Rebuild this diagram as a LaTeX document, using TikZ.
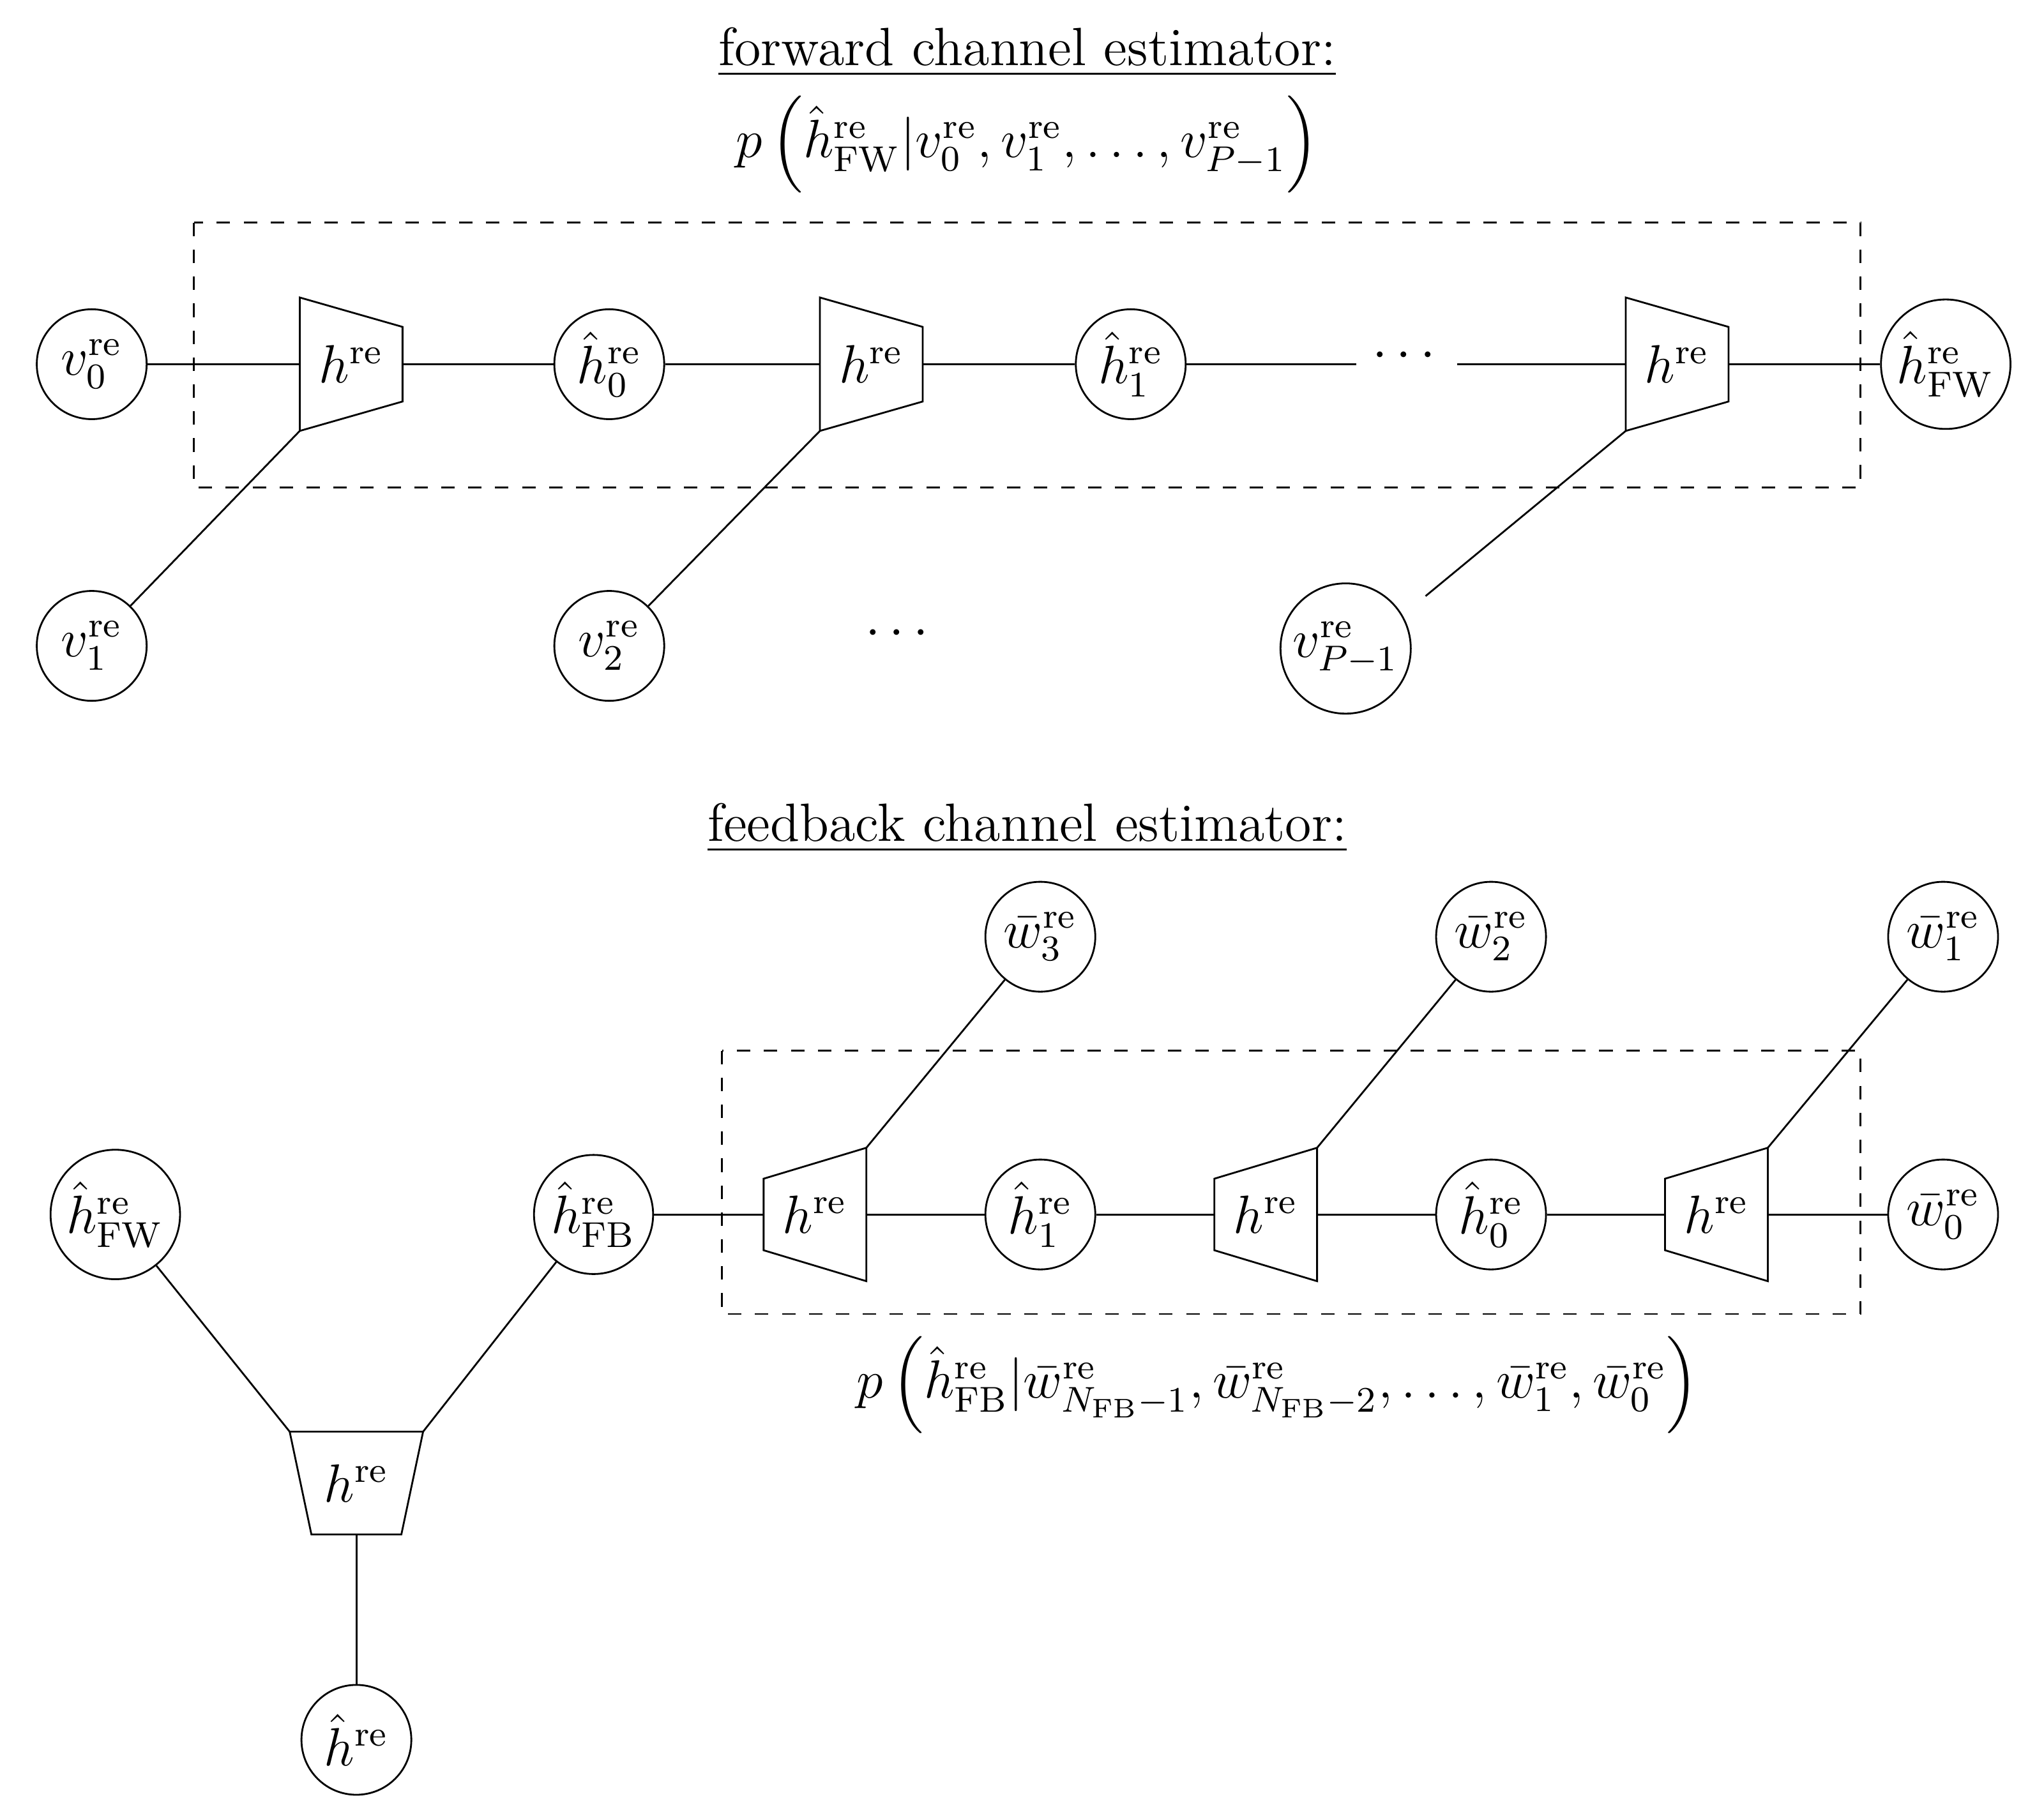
\documentclass[tikz,border=0pt]{standalone}
\usepackage{amsmath}
\usetikzlibrary{calc}
\newcommand{\re}{\mathrm{re}}
\begin{document}
\begin{tikzpicture}[x=0.01026cm, y=-0.01026cm, every node/.style={font=\large},
  var/.style={draw,circle,minimum size=0.86cm,inner sep=1pt},
  fac/.style={minimum width=0.79cm,minimum height=1.03cm,inner sep=0pt},
  facv/.style={minimum width=1.03cm,minimum height=0.79cm,inner sep=0pt},
  box/.style={draw,dashed}]
	\useasboundingbox (0,0) rectangle (1560,1383);
	% forward channel estimator
	\node (T1) at (784,40) {\underline{forward channel estimator:}};
	\node (P1) at (784,110) {$p\left(\hat{h}^{\re}_{\mathrm{FW}}|v^{\re}_{0},v^{\re}_{1},\ldots,v^{\re}_{P-1}\right)$};
	\draw[box] (148,170) rectangle (1420,372);
	\node[var] (v0) at (70,278) {$v^{\re}_{0}$};
	\node[fac] (F1) at (268,278) {$h^{\re}$};
	\node[var] (h0) at (465,278) {$\hat{h}^{\re}_{0}$};
	\node[fac] (F2) at (665,278) {$h^{\re}$};
	\node[var] (h1) at (863,278) {$\hat{h}^{\re}_{1}$};
	\node (D1) at (1075,272) {$\cdots$};
	\node[fac] (F3) at (1280,278) {$h^{\re}$};
	\node[var] (hFW) at (1485,278) {$\hat{h}^{\re}_{\mathrm{FW}}$};
	\node[var] (v1) at (70,493) {$v^{\re}_{1}$};
	\node[var] (v2) at (465,493) {$v^{\re}_{2}$};
	\node (D2) at (688,484) {$\cdots$};
	\node[var] (vP) at (1027,495) {$v^{\re}_{P-1}$};
	\coordinate (vPend) at (1088,455);
	\coordinate (d1a) at (1035,278);
	\coordinate (d1b) at (1112,278);
	
	\draw (v0) -- (F1.west);
	\draw (F1.east) -- (h0);
	\draw (h0) -- (F2.west);
	\draw (F2.east) -- (h1);
	\draw (h1) -- (d1a);
	\draw (d1b) -- (F3.west);
	\draw (F3.east) -- (hFW);
	\draw (F1.south west) -- (v1);
	\draw (F2.south west) -- (v2);
	\draw (F3.south west) -- (vPend);
	
	% feedback channel estimator
	\node (T2) at (784,632) {\underline{feedback channel estimator:}};
	\draw[box] (551,802) rectangle (1420,1003);
	\node[var] (gFW) at (88,927) {$\hat{h}^{\re}_{\mathrm{FW}}$};
	\node[var] (hFB) at (453,927) {$\hat{h}^{\re}_{\mathrm{FB}}$};
	\node[fac] (F4) at (622,927) {$h^{\re}$};
	\node[var] (g1) at (794,927) {$\hat{h}^{\re}_{1}$};
	\node[fac] (F5) at (966,927) {$h^{\re}$};
	\node[var] (g0) at (1138,927) {$\hat{h}^{\re}_{0}$};
	\node[fac] (F6) at (1310,927) {$h^{\re}$};
	\node[var] (w0) at (1483,927) {$\bar{w}^{\re}_{0}$};
	\node[var] (w3) at (794,715) {$\bar{w}^{\re}_{3}$};
	\node[var] (w2) at (1138,715) {$\bar{w}^{\re}_{2}$};
	\node[var] (w1) at (1483,715) {$\bar{w}^{\re}_{1}$};
	\node[facv] (F7) at (272,1132) {$h^{\re}$};
	\node[var] (hre) at (272,1328) {$\hat{h}^{\re}$};
	\node (P2) at (975,1057) {$p\left(\hat{h}^{\re}_{\mathrm{FB}}|\bar{w}^{\re}_{N_{\mathrm{FB}}-1},\bar{w}^{\re}_{N_{\mathrm{FB}}-2},\ldots,\bar{w}^{\re}_{1},\bar{w}^{\re}_{0}\right)$};
	
	\draw (hFB) -- (F4.west);
	\draw (F4.east) -- (g1);
	\draw (g1) -- (F5.west);
	\draw (F5.east) -- (g0);
	\draw (g0) -- (F6.west);
	\draw (F6.east) -- (w0);
	\draw (F4.north east) -- (w3);
	\draw (F5.north east) -- (w2);
	\draw (F6.north east) -- (w1);
	\draw (gFW) -- (F7.north west);
	\draw (hFB) -- (F7.north east);
	\draw (F7.south) -- (hre);
	
	% factor shapes
	\foreach \f in {F1,F2,F3}
		\draw (\f.north west) -- ([yshift=-0.23cm]\f.north east) -- ([yshift=0.23cm]\f.south east) -- (\f.south west) -- cycle;
	\foreach \f in {F4,F5,F6}
		\draw ([yshift=0.28cm]\f.west) -- (\f.north east) -- (\f.south east) -- ([yshift=-0.28cm]\f.west) -- cycle;
	\draw (F7.north west) -- (F7.north east) -- ([xshift=-0.17cm]F7.south east) -- ([xshift=0.17cm]F7.south west) -- cycle;
\end{tikzpicture}
\end{document}
